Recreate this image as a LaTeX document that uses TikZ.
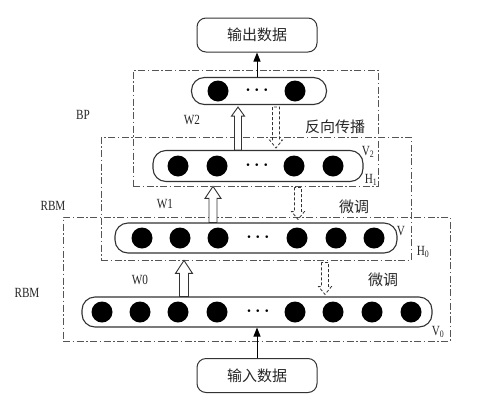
\documentclass[tikz,border=0pt]{standalone}
\usepackage{fontspec}
\setmainfont{Liberation Serif}[FakeStretch=0.8]
\newfontfamily\cjk{Noto Sans CJK SC}
\usetikzlibrary{calc,arrows.meta}
\definecolor{linec}{HTML}{333333}
\definecolor{boxc}{HTML}{555555}
\newcommand\hollowarr[6]{% #1 style, #2 start, #3 tip, #4 half shaft, #5 half head, #6 head length (signed)
  \draw[#1] ($(#2)+(-#4,0)$) -- ($(#3)+(-#4,#6)$) -- ($(#3)+(-#5,#6)$) -- (#3)
    -- ($(#3)+(#5,#6)$) -- ($(#3)+(#4,#6)$) -- ($(#2)+(#4,0)$) -- cycle;}
\newcommand\bdots{{\boldmath$\cdots$}}
\begin{document}
\begin{tikzpicture}[x=1pt,y=-1pt,
  capsule/.style={draw=linec, line width=1.1pt, rounded corners=13pt, inner sep=0pt, fill=white},
  neuron/.style={circle, fill=black, minimum size=21pt, inner sep=0pt},
  dotsn/.style={inner sep=0pt, font=\fontsize{16}{16}\selectfont},
  dashbox/.style={draw=boxc, line width=0.8pt, dash pattern=on 7pt off 2.5pt on 1.5pt off 2.5pt, inner sep=0pt},
  iobox/.style={draw=linec, line width=1pt, rounded corners=9pt, minimum width=120pt, minimum height=34pt, inner sep=0pt, font=\fontsize{15}{15}\selectfont\cjk, text=black!85},
  lbl/.style={inner sep=0pt, font=\fontsize{14}{14}\selectfont, text=black!85},
  clbl/.style={inner sep=0pt, font=\fontsize{15}{15}\selectfont\cjk, text=black!85},
  solidarr/.style={draw=linec, line width=0.9pt, fill=white},
  dasharr/.style={draw=linec, line width=0.8pt, dash pattern=on 3pt off 2pt},
  flow/.style={draw=black, line width=1pt, -{Triangle[length=9pt,width=7pt]}}
]
\useasboundingbox (0,0) rectangle (500,410);

% dash-dot boxes
\node[dashbox, minimum width=387pt, minimum height=124pt] (rbm0) at (256.5,279) {};
\node[dashbox, minimum width=310pt, minimum height=123pt] (rbm1) at (256,198.5) {};
\node[dashbox, minimum width=245pt, minimum height=116pt] (bp) at (255.5,128) {};

% input / output
\node[iobox] (out) at (257,35) {输出数据};
\node[iobox] (in) at (257,375.5) {输入数据};

% layers
\node[capsule, minimum width=135pt, minimum height=27pt] (l3) at (259,91) {};
\node[capsule, minimum width=210pt, minimum height=31pt] (l2) at (258,166) {};
\node[capsule, minimum width=282pt, minimum height=30pt] (l1) at (256,238) {};
\node[capsule, minimum width=350pt, minimum height=30pt] (l0) at (257,312) {};

% neurons
\foreach \x [count=\i] in {218,295} {\node[neuron] (n3\i) at (\x,91) {};}
\node[dotsn] (d3) at (257,90) {\bdots};
\foreach \x [count=\i] in {178,217,294,333} {\node[neuron] (n2\i) at (\x,166) {};}
\node[dotsn] (d2) at (257,165) {\bdots};
\foreach \x [count=\i] in {142,180,218,297,336,374} {\node[neuron] (n1\i) at (\x,238) {};}
\node[dotsn] (d1) at (258,237) {\bdots};
\foreach \x [count=\i] in {102,140,178,217,295,333,372,411} {\node[neuron] (n0\i) at (\x,312) {};}
\node[dotsn] (d0) at (258,311) {\bdots};

% in/out arrows
\draw[flow] (out.south |- l3.north) -- (out.south);
\draw[flow] (in.north) -- (in.north |- l0.south);

% hollow up arrows
\coordinate (xa0) at (184,0);
\coordinate (xa1) at (213,0);
\coordinate (xa2) at (238,0);
\coordinate (b0) at (xa0 |- l0.north);
\coordinate (t0) at (xa0 |- rbm1.south);
\coordinate (b1) at (xa1 |- l1.north);
\coordinate (t1) at (xa1 |- bp.south);
\coordinate (b2) at (xa2 |- l2.north);
\coordinate (t2) at ($(xa2 |- l3.south)+(0,2)$);
\hollowarr{solidarr}{b0}{t0}{4.5}{8.5}{13}
\hollowarr{solidarr}{b1}{t1}{4}{8}{12}
\hollowarr{solidarr}{b2}{t2}{3.5}{6.5}{9}

% dashed down arrows
\coordinate (xd2) at (276,0);
\coordinate (xd1) at (298,0);
\coordinate (xd0) at (325,0);
\coordinate (s2) at ($(xd2 |- l3.south)+(0,2)$);
\coordinate (e2) at ($(xd2 |- l2.north)+(0,-2)$);
\coordinate (s1) at ($(xd1 |- bp.south)+(0,1)$);
\coordinate (e1) at ($(xd1 |- l1.north)+(0,-3)$);
\coordinate (s0) at ($(xd0 |- rbm1.south)+(0,2)$);
\coordinate (e0) at ($(xd0 |- l0.north)+(0,-2)$);
\hollowarr{dasharr}{s2}{e2}{3.5}{6.5}{-8}
\hollowarr{dasharr}{s1}{e1}{3.5}{6.5}{-8}
\hollowarr{dasharr}{s0}{e0}{3.5}{6.5}{-8}

% labels
\node[lbl] (tbp) at (83,115) {BP};
\node[lbl] (tw2) at (192,120) {W2};
\node[clbl] (tfx) at (335,127) {反向传播};
\node[lbl] (tv2) at (368,152) {V\textsubscript{2}};
\node[lbl] (th1) at (371,180) {H\textsubscript{1}};
\node[lbl] (trbm1) at (53,206) {RBM};
\node[lbl] (tw1) at (165,204) {W1};
\node[clbl] (twt1) at (354,207) {微调};
\node[lbl] (tv1) at (401,231) {V};
\node[lbl] (th0) at (423,252) {H\textsubscript{0}};
\node[lbl] (tw0) at (140,280) {W0};
\node[clbl] (twt0) at (383,280) {微调};
\node[lbl] (trbm0) at (27,293) {RBM};
\node[lbl] (tv0) at (438,332) {V\textsubscript{0}};
\end{tikzpicture}
\end{document}
